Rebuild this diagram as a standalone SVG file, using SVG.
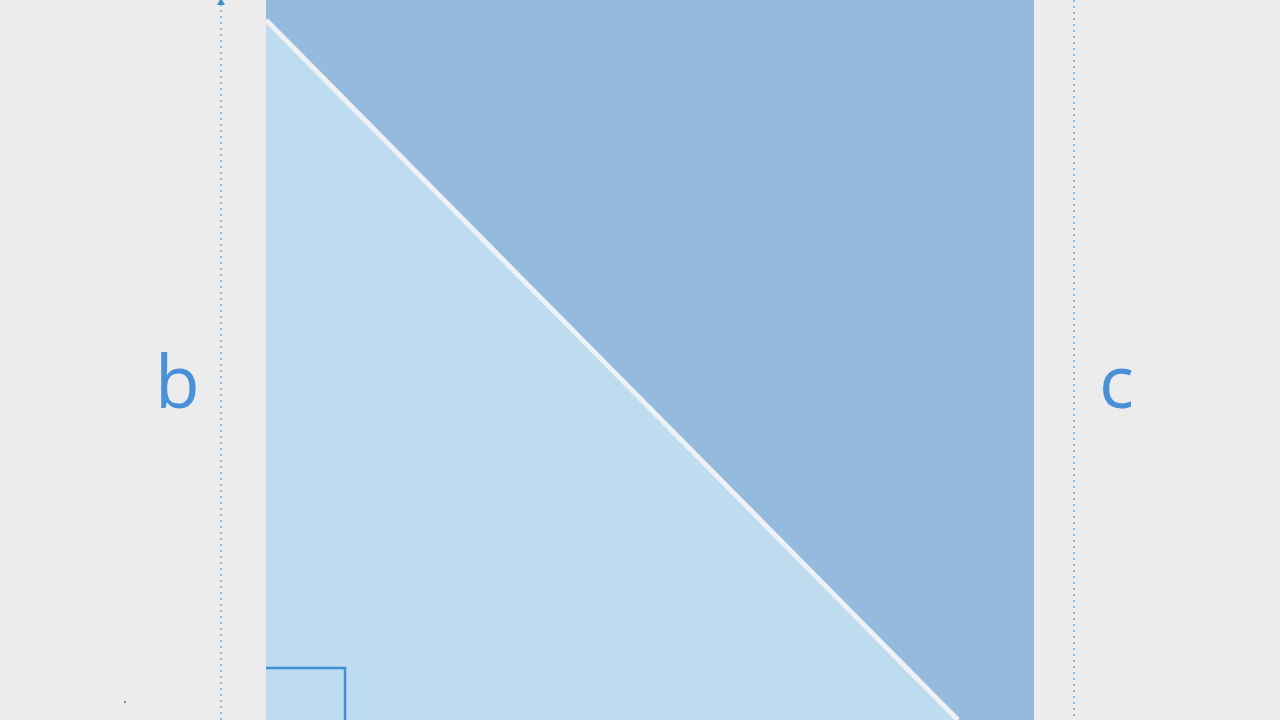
<svg xmlns="http://www.w3.org/2000/svg" width="1280" height="720" viewBox="0 0 1280 720">
<style>
.dim{stroke:#4f9ad8;stroke-width:1.2;stroke-dasharray:2 4;fill:none}
.lbl{font-family:"Open Sans","Noto Sans",sans-serif;font-size:73px;fill:#4a90d9}
</style>
<rect width="1280" height="720" fill="#ececec"/>
<g id="rectangle">
<rect x="266" y="0" width="768" height="720" fill="#94bade"/>
<polygon points="266,20 266,720 958,720" fill="#bddcf0"/>
<line x1="266" y1="20" x2="958" y2="720" stroke="#eef1f6" stroke-width="5"/>
</g>
<g id="right-angle">
<polyline points="266,668 345,668 345,720" fill="none" stroke="#3d8fd6" stroke-width="2.5"/>
</g>
<g id="connectors">
<line class="dim" x1="221" y1="4" x2="221" y2="720"/>
<polygon points="221,-2 217,5 225,5" fill="#3d8fd6"/>
<line class="dim" x1="1074" y1="0" x2="1074" y2="720"/>
</g>
<g id="label-b"><text class="lbl" x="155" y="408">b</text></g>
<g id="label-c"><text class="lbl" x="1099" y="408">c</text></g>
<rect x="124" y="701" width="2" height="2" fill="#888"/>
</svg>
